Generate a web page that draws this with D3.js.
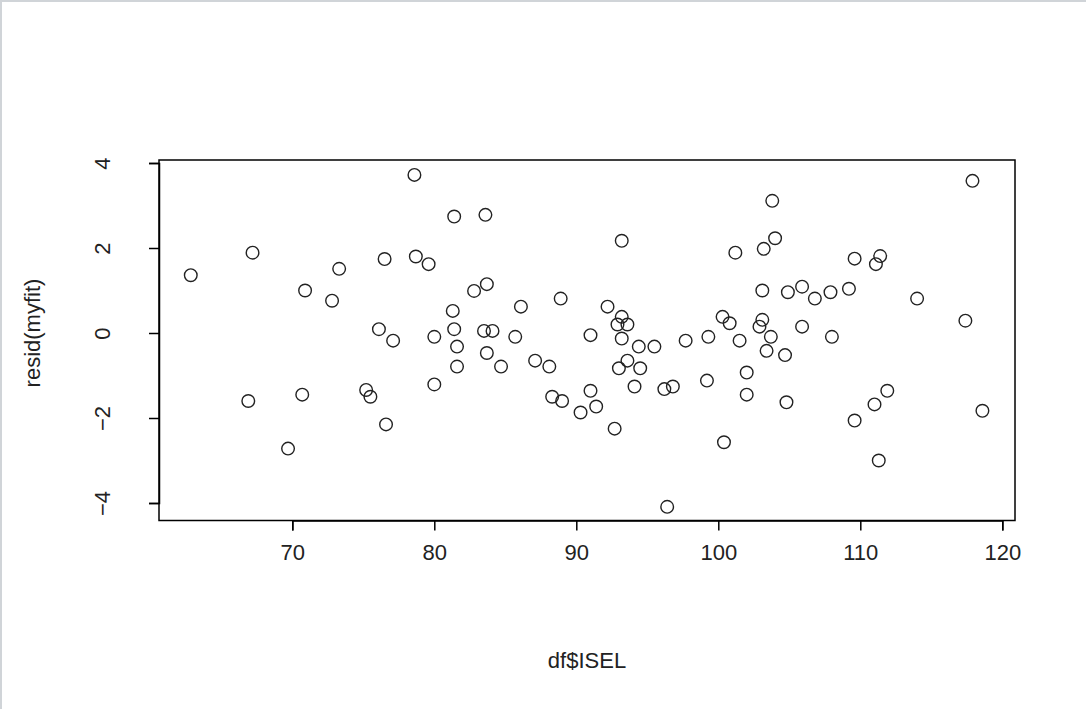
<!DOCTYPE html>
<html><head><meta charset="utf-8">
<script src="https://cdn.jsdelivr.net/npm/d3@7"></script>
<style>body{margin:0;background:#fff}svg{display:block}</style>
</head><body><svg id="c" width="1086" height="709"></svg>
<script>
const xVals=[62.85,67.2,78.6,81.4,73.3,70.9,72.8,76.5,78.7,79.6,81.3,81.4,81.6,81.6,76.1,77.1,80,80,66.9,70.7,75.2,75.5,76.6,69.7,
83.6,93.2,101.2,82.8,83.7,88.9,86.1,92.2,93.2,92.9,93.6,93.2,91.0,83.5,84.1,85.7,83.7,84.7,87.1,88.1,94.4,95.5,97.7,99.3,93.6,93.0,94.5,94.1,96.2,96.8,99.2,88.3,89.0,91.0,91.4,90.3,92.7,100.4,96.4,100.3,100.8,
103.8,104.0,103.2,109.6,111.4,111.1,117.9,114.0,103.1,104.9,105.9,106.8,107.9,109.2,117.4,103.1,102.9,103.7,101.5,103.4,104.7,105.9,108.0,102.0,102.0,104.8,109.6,111.0,111.9,111.3,118.6];
const yVals=[1.36,1.89,3.72,2.74,1.51,1.0,0.76,1.74,1.8,1.62,0.52,0.09,-0.32,-0.79,0.09,-0.18,-0.09,-1.21,-1.6,-1.45,-1.34,-1.5,-2.15,-2.72,
2.78,2.17,1.89,0.99,1.15,0.81,0.62,0.62,0.38,0.2,0.2,-0.13,-0.05,0.05,0.05,-0.09,-0.47,-0.79,-0.65,-0.79,-0.32,-0.32,-0.18,-0.09,-0.65,-0.83,-0.83,-1.26,-1.32,-1.26,-1.12,-1.5,-1.6,-1.36,-1.73,-1.87,-2.25,-2.57,-4.09,0.38,0.23,
3.11,2.23,1.98,1.75,1.81,1.62,3.58,0.81,1.0,0.96,1.09,0.81,0.96,1.04,0.29,0.31,0.15,-0.09,-0.18,-0.42,-0.52,0.15,-0.09,-0.93,-1.45,-1.63,-2.06,-1.68,-1.36,-3.0,-1.83];
const xTicks=[70,80,90,100,110,120];
const yTicks=[-4,-2,0,2,4];
const xLabel="df$ISEL", yLabel="resid(myfit)";

const svg=d3.select("#c");
const font="'Liberation Sans',Arial,sans-serif";
svg.append("rect").attr("x",0.5).attr("y",0.5).attr("width",1100).attr("height",800).attr("fill","none").attr("stroke","#d0d4d8").attr("stroke-width",3);
const x=d3.scaleLinear().domain([70,120]).range([292.3,1002.3]);
const y=d3.scaleLinear().domain([-4,4]).range([503,163]);
const L=159,R=1015,T=160,B=520.5;
svg.append("rect").attr("x",L).attr("y",T).attr("width",R-L).attr("height",B-T).attr("fill","none").attr("stroke","#000").attr("stroke-width",1.5);
const xa=svg.append("g").attr("transform",`translate(0,${B})`).call(d3.axisBottom(x).tickValues(xTicks).tickSize(10).tickPadding(14));
const ya=svg.append("g").attr("transform",`translate(${L},0)`).call(d3.axisLeft(y).tickValues(yTicks).tickSize(10).tickPadding(12));
[xa,ya].forEach(a=>{a.select(".domain").attr("stroke","#000").attr("stroke-width",1.5);a.selectAll("line").attr("stroke","#000").attr("stroke-width",1.5);
 a.selectAll("text").attr("font-family",font).attr("font-size",22).attr("fill","#222");});
ya.selectAll("text").attr("x",0).attr("y",0).attr("dy",null).attr("text-anchor","middle").attr("transform","translate(-49,0) rotate(-90)");
svg.append("g").selectAll("circle").data(xVals.map((v,i)=>[v,yVals[i]])).join("circle")
 .attr("cx",d=>x(d[0])).attr("cy",d=>y(d[1])).attr("r",6.3).attr("fill","none").attr("stroke","#222").attr("stroke-width",1.4);
svg.append("text").attr("x",587).attr("y",668).attr("text-anchor","middle").attr("font-family",font).attr("font-size",22).attr("fill","#222").text(xLabel);
svg.append("text").attr("transform","translate(40,333) rotate(-90)").attr("text-anchor","middle").attr("font-family",font).attr("font-size",22).attr("fill","#222").text(yLabel);
</script></body></html>
